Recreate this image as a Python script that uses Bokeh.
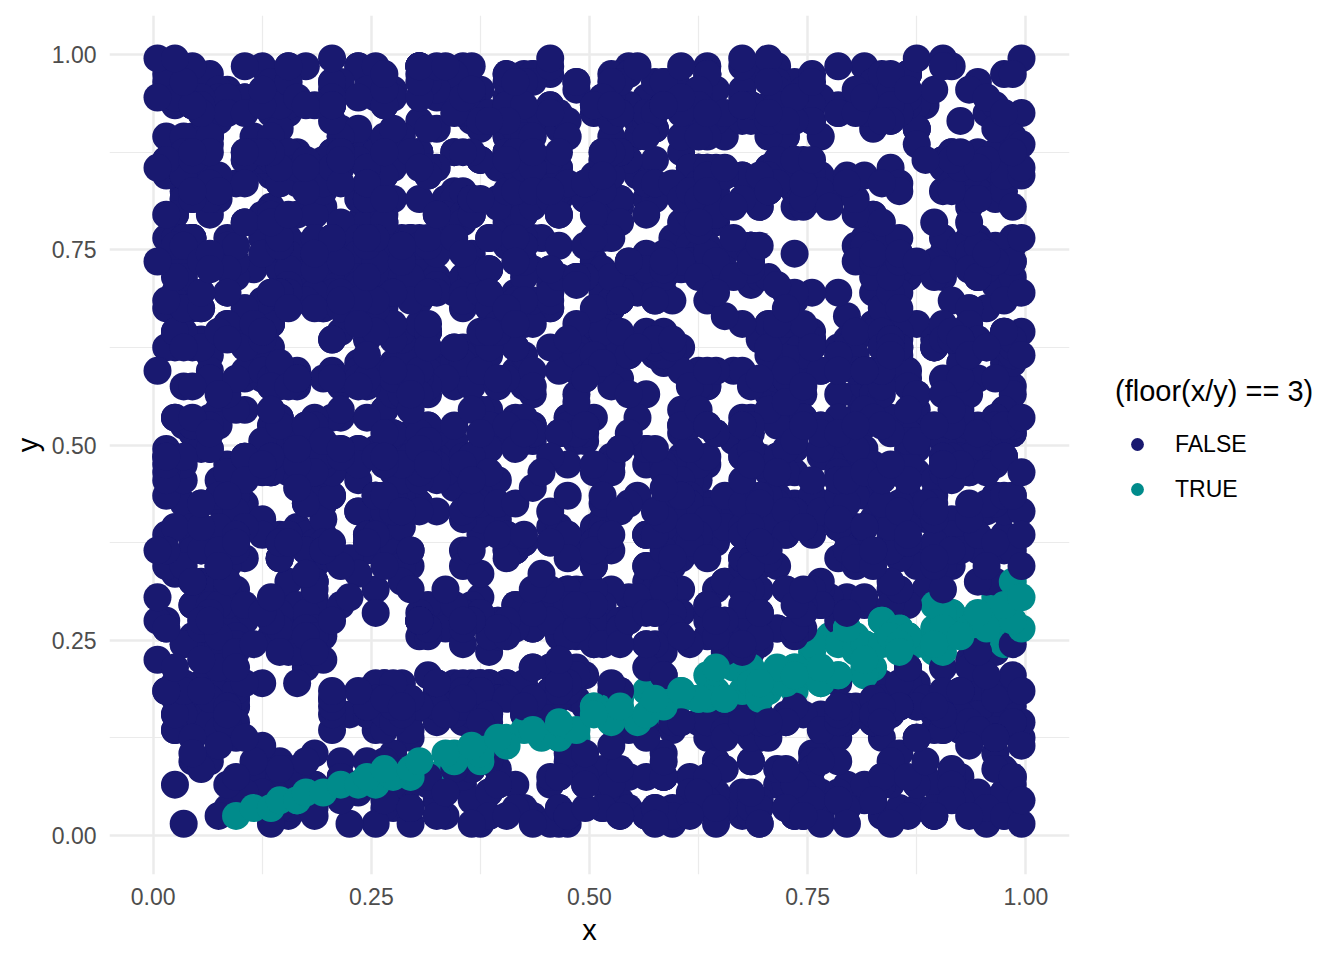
from bokeh.plotting import figure
from bokeh.models import Range1d, FixedTicker, Legend, LegendItem, ColumnDataSource
from bokeh.embed import file_html
from bokeh.resources import INLINE

# ---- data -------------------------------------------------------------
# Each group "xxyy": x and y of one point, in hundredths (cell 00..99 of the unit square).
POINT_CODES = """
4817 0925 7362 1598 8431 2706 5589 3174 9052 6643 1387 7720 2951 6408 3869 8215 0574 4936 7193 2680
9134 5271 0688 3945 6702 8159 2416 7893 1260 4537 8824 3091 5768 0342 7915 2483 6650 9207 1879 4326
3562 8807 1429 6391 0754 4218 9683 2540 5127 7966 3308 8452 0197 6735 2874 9541 4063 1810 7289 5656
6295 1743 8016 4582 2369 7930 0451 5807 3674 9128 6513 1285 8840 4019 2596 7342 0938 5761 3127 9404
1078 6659 4321 9816 5543 0397 7264 2912 8485 3730 0661 5498 9213 2876 6154 1639 4782 8025 5307 0941
8441 3016 6897 0253 2678 5584 1139 9760 4906 0315 7842 2667 3509 8198 1721 5053 9376 3444 6830 2187
2709 9482 5163 7730 9912 1845 3658 6431 0279 8561 4094 6926 1752 5380 8637 0409 2215 7198 4583 6062
5926 2378 0532 3469 4187 6621 8075 1546 7393 2814 9458 0731 6380 4925 0262 3876 5107 6934 2751 8319
0653 7134 9260 5817 3426 9071 2588 4302 6915 1148 5279 8563 4036 7712 9487 2654 8831 0476 9322 3795
7380 4569 2795 1042 6851 3318 9624 7183 0542 5976 2107 4415 7869 0233 5194 6728 1365 8517 0689 4251
4192 8637 3854 6275 0916 7742 1403 5569 8221 3087 6834 9150 2597 5461 1728 8306 3073 2889 6514 9736
9567 1325 6048 8893 7539 2164 4712 0895 3376 6503 1980 2347 8625 4178 6031 9482 2756 5140 4397 0818
2835 5902 8671 0418 4287 5936 6148 3327 9764 0752 4516 7289 0943 3617 8465 1054 7839 6325 1172 5591
6014 3786 1523 7349 9670 0425 3891 8056 2418 4965 7302 5634 6178 9806 2341 7569 0496 4182 8753 3207
1749 0268 7906 2581 5304 8697 0965 6738 4850 1219 3647 9072 1486 2359 7510 3823 5681 9964 2035 6478
8302 6451 4297 9164 1852 3076 5430 2619 7185 8736 0294 3819 5062 7947 4629 0388 9215 1453 6870 2594
3487 9715 0369 4826 7143 6589 2071 9304 1657 5442 8929 1368 4713 0584 9262 5937 1746 7099 3508 8121
5670 2043 9128 6705 3619 1472 7856 4981 6039 0847 5386 6713 9254 3170 0893 8461 6532 2287 7914 4065
0924 7396 2654 3517 8790 9238 4215 1679 3802 7163 1548 4097 2836 8425 5106 3749 4089 5632 9473 1850
7256 1189 5832 0943 2478 4701 9337 6052 5486 2915 9074 7631 0368 6291 3849 6915 2760 8438 1027 3786
2013 8574 6491 5236 9367 0865 1742 3308 8159 6427 4685 2106 7523 1942 6078 4250 9851 0317 5664 7593
9471 3628 1087 8712 5046 7319 6584 9250 0637 3981 2234 8749 5160 4583 8716 1094 3302 6875 2418 0149
4856 0937 7725 3461 1298 2574 4019 5763 6842 1306 8951 0418 3679 9027 1485 7632 5169 2548 8790 3326
6138 5492 3360 1875 7683 9146 2807 0324 4591 8765 3027 6283 9914 5361 2750 0839 6473 4106 1532 9857
1592 7264 8943 6028 0519 4387 5638 8176 2105 5649 7386 1942 4837 2190 9623 3478 0718 7254 5081 6963
8365 2710 0516 9384 6837 1623 9150 2497 7963 0218 1572 5807 6051 8746 3204 5961 8425 1093 6740 2189
3740 6185 5279 2513 4962 8051 0493 6725 1384 7827 6409 3156 2398 0614 7581 9347 1266 5832 9317 4602
5207 9843 2638 7159 8124 3496 6971 1048 9526 4352 0813 9674 5127 7382 4036 2189 7543 3968 0276 8415
0689 4326 9184 0742 3571 6918 4265 7839 5247 2063 9738 4521 1604 8259 5397 6714 2950 9187 4831 1576
7914 1058 4752 5896 2305 5267 8312 3594 0876 9140 2465 7089 8736 3925 0148 4572 6087 2341 7659 5203
4350 8697 1806 3271 9648 0782 2549 6107 3918 5694 7071 2436 4185 6803 9527 1365 3840 8719 2096 6472
9826 3419 6375 8640 1187 4539 7093 9856 6402 1278 4920 8357 0631 2174 5869 7903 1594 4285 6347 0931
2571 7036 0941 4518 6725 9304 3867 2415 8136 7509 1352 6784 9248 4597 3016 8651 5729 0463 8174 3805
6043 2185 8619 1967 0452 6873 5128 4690 2781 3346 6804 0219 7563 9831 1258 2497 4916 7302 3659 9548
1798 6542 4286 7305 5830 2147 9674 0382 4567 8913 3249 5860 1472 6305 8734 0186 7351 3628 5092 2764
8463 0971 7352 2684 3917 8625 0439 7148 9205 1672 8516 2743 6397 0562 2481 5938 0263 9875 1426 4317
3129 5368 2497 9153 7684 1450 6802 3571 1948 6035 4187 9326 2850 7619 6073 4219 8645 1507 7938 6081
5786 4203 6158 0826 2049 5381 1967 8624 7319 2487 0963 3598 8124 4736 3527 9604 2178 6342 4853 1629
0432 9817 3629 5470 8265 7936 4518 1093 5874 9651 6328 1240 3917 5182 9860 2375 4601 8793 0217 7456
7615 1594 9046 3738 4592 0167 8373 5486 0623 4129 2751 6814 7563 3098 1346 6928 9135 2467 5781 3940
2390 6728 5163 8204 1938 3457 0682 9715 4176 8039 5842 0371 2695 8426 6914 1783 3058 4627 9501 0869
9058 3146 1874 4965 6320 9783 5241 2069 8537 1604 3495 7928 0162 4381 7259 5016 6794 3152 1438 8275
4681 7402 7539 0317 2873 1248 9615 6382 0954 7862 1703 4159 8426 9630 2587 7341 0429 8963 6175 3514
6217 0935 3482 6791 9045 5602 2376 8157 6819 3025 8564 1392 4738 0275 5103 3698 7812 1547 3906 9681
1354 8269 8906 2153 5761 4079 6823 0438 3295 6574 0917 8546 1209 6853 9472 0127 5381 6274 8649 2035
8790 2517 0628 9476 3184 7365 1059 4621 9742 0398 6236 2685 5871 3164 0738 8452 2976 5039 4261 7508
3926 5683 6245 1830 7597 2814 4376 9050 2168 5731 4089 9517 3642 7508 8651 2093 9547 0381 1726 4592
5403 1958 2817 7362 0429 8596 9138 3743 7694 2106 1852 4063 6915 8279 4326 9764 1205 7648 5837 0916
0875 7341 9372 3608 8256 0143 5790 6214 4027 8459 7318 5796 2483 1947 6089 3518 6472 2093 9154 5267
7142 4096 4751 8924 3671 6938 0415 1587 5863 3270 2946 0831 9754 5602 1437 6891 3028 8546 2360 1783
2568 9623 1094 5287 6813 3459 8672 7019 0345 6982 5703 8264 4129 9836 7582 0275 8391 4617 6928 3450
9017 3852 6480 0745 2349 7106 3248 5893 8621 1437 9086 3519 7264 0481 2955 4603 1784 9352 0573 6809
4736 0184 3927 6513 9082 1675 6831 2460 5914 7056 2438 6795 0317 8642 5164 9782 4136 7805 3294 1827
6389 5461 8152 2398 4567 8923 0176 9348 2703 4821 6942 1067 5893 3259 8706 1435 7269 0583 9618 4052
1503 2976 5368 9047 1824 4250 7593 0712 6185 9364 3701 7428 2076 6914 0352 8517 2094 6341 5837 7196
8254 7839 2715 4162 6398 0583 9426 5187 3042 0679 8153 4286 9642 1375 6829 2048 5317 1769 4280 3567
3691 1503 7046 1879 8215 6742 2158 8693 9876 5231 0467 9015 3381 7206 4593 5762 0846 8425 7152 2934
5129 6247 0483 7326 3754 2961 4809 1435 7260 3815 5294 2637 8650 4931 1078 7394 6523 3906 0489 8671
0462 8915 9831 3694 5073 9418 6527 4076 1453 8742 7926 0381 6145 2587 9316 0829 3751 5268 2643 4708
7835 3064 4279 8541 2906 1357 8143 6924 5738 2196 3615 8047 0279 9653 2847 4136 8902 1574 6385 0219
2947 6382 1650 5073 7481 8629 3075 9518 0264 6437 9852 3169 4726 1380 8503 6947 1238 7495 3016 5862
9380 0716 6124 2957 0563 3148 5972 2407 8139 4685 1276 5834 7091 4265 3719 8052 6483 0917 8542 2374
4506 5829 3792 9418 6247 7503 1869 4752 3580 1926 6348 0715 2453 8917 7065 2381 9724 4639 1287 6093
6173 2458 8535 0682 3819 4276 7214 8063 6927 7304 2189 9462 5807 3541 0638 9274 4150 2863 7925 3618
1825 9173 0269 6357 9136 1982 4530 1687 9415 3068 5731 2598 8642 0793 6281 3506 7849 5172 0364 8945
8658 4391 5947 3120 1572 6834 9086 3259 2741 8593 4607 7126 0384 6259 1946 5783 2017 8436 4593 1207
3214 7605 2481 7846 4928 0451 2647 6901 7368 0215 8942 3580 6173 2948 5407 8136 3592 1768 9021 7459
5790 1827 7018 1593 8307 5769 6395 0418 4183 5647 3269 1834 9751 7602 2834 0697 5268 6904 2157 4382
0347 6042 4356 8271 2695 9213 3851 7346 0592 2874 7108 6397 4826 5139 9762 4315 0973 3487 6842 9610
7481 3569 9702 4038 6043 2587 8129 5674 8256 9731 1453 4862 2095 8317 3581 7926 6149 0235 5378 2864
2059 8214 6183 0925 3716 7349 0498 2135 5371 6408 6927 0315 8643 1570 7256 1483 4692 9814 3086 5137
9643 5387 1527 6784 9851 1062 4753 8592 2806 3149 0584 7629 3218 9436 4097 5362 8510 2679 7453 0198
4168 0736 8294 3159 5427 8906 6312 4087 9643 7215 4896 2053 7581 0924 1738 6059 3247 5861 0629 8374
6532 4971 3065 9218 0384 4651 9827 1346 6152 0983 2763 8409 1594 6753 5928 2814 7065 3497 8136 4725
1806 7158 5649 2407 7192 3274 1569 6823 3087 8526 9314 5762 6037 2481 8463 9107 0582 6734 4257 1593
8375 2693 0918 7564 2639 6017 5084 3719 7415 1362 5027 9184 4859 7306 2091 4638 9716 1250 6893 3481
3927 9405 7486 1832 8546 0938 2675 9452 0268 4791 1683 3527 9076 4215 6384 0729 5138 8473 2015 7962
5214 1847 2371 6095 4078 5823 8391 0126 6539 9034 7852 6418 2345 8697 9152 3861 1427 4086 7538 0319
0791 6328 9653 4176 1925 2416 4738 5607 1874 3657 3048 0295 7916 3042 4735 8296 6803 7529 5164 9275
7148 3592 4827 8340 6357 8754 0912 2843 9326 5108 8296 4731 1502 5968 0617 2154 3379 9615 1867 4820
2386 8061 6104 5729 3812 1039 7265 6381 4753 2916 1547 8673 5289 0134 8926 7480 9046 3251 6948 2517
9652 4179 1538 0264 7093 6482 3917 9025 8214 6873 6409 2158 0374 6821 3579 1346 5218 7809 4136 8053
4507 0735 8962 3817 2648 9527 5183 4476 0659 1328 3872 5916 7641 2359 9048 6513 0784 2436 8291 3679
6179 5248 3416 7593 9185 4276 0649 1837 5302 8641 0793 9427 2168 7506 4612 3087 7591 6045 1743 5928
1843 9376 7085 2148 5327 0658 8491 6205 2917 4087 5214 3681 8952 4137 6285 9742 2416 8973 7520 0146
8290 2615 0743 6825 1469 7914 2036 3592 9748 0536 9687 7203 4415 9873 1029 5368 8637 0582 3164 6495
3561 7824 5297 9036 6834 3152 9708 7164 1385 6912 2476 0549 6793 1648 7853 0213 4952 5318 9705 2371
5024 3980 2671 1452 8703 5679 1263 0518 7246 3985 8130 4862 3057 8294 5216 4789 1305 9647 0628 7843
0975 6153 9438 4761 4279 1846 6485 8937 3604 1527 4859 9315 7524 3460 0938 6172 9784 3126 5493 1286
7316 1409 4825 8397 0562 8023 3957 2463 6819 7054 1365 2678 0189 6735 8647 2901 3560 7819 2046 9532
2743 9586 1094 3628 7915 4380 5142 6809 0437 2871 6592 8147 9826 1503 3295 7684 6018 4275 8362 0914
9108 4237 6759 7082 3146 9675 0821 3358 5962 8406 3740 1829 4365 7148 6812 0537 2794 8619 1527 5683
4659 0781 3216 1947 8524 2109 7463 9612 2785 4153 9085 6372 1048 5926 0473 9861 5326 1048 6793 3125
6285 5314 8572 6415 2087 6543 1396 4075 8139 0682 2617 3908 7531 2684 4950 1726 8043 6375 3809 7461
1437 8962 0138 3759 5691 0872 9024 5738 4501 6327 5469 9253 0276 8415 7139 3048 1587 9204 7261 2839
8902 2648 5493 9106 4372 7258 2657 1983 6314 9741 1832 4586 6893 3051 2718 5614 9260 3582 0145 6397
3578 6105 7861 2543 9028 3196 4812 8367 1940 3279 8306 0715 3462 9187 5864 8293 4731 7126 5903 1742
5024 3791 2349 8817 1645 5934 8175 0452 7283 5618 4951 7364 2087 4603 9325 0476 6829 1435 8367 4058
0681 7426 9705 4368 6893 1427 3568 6294 0816 2495 7138 2609 5941 1736 4082 6517 2394 8659 1728 9374
7249 1853 4162 0795 3516 8049 6931 2746 5358 7903 0624 5871 1259 8342 6903 4185 7042 2913 6584 3217
2816 5037 8429 6152 0734 2689 1475 9503 3692 8147 5206 3814 7483 0569 2187 9632 5841 0376 4925 6508
9463 8124 0937 2846 6285 5731 8240 1358 7014 4625 9871 6139 3027 5294 8651 1407 2368 7584 0213 3769
4190 2568 6374 9031 1852 8306 3917 7629 2485 0794 1348 9562 6735 8120 0476 5893 9642 3157 7061 8425
6527 7903 2158 4679 8436 0147 5692 3081 9326 6513 4709 2875 0481 3716 7258 2049 1386 9832 5497 1604
1973 3681 7405 1387 4169 9528 2043 6875 0567 3452 8236 7014 5692 9148 3825 6371 4907 1268 8639 7350
8345 9216 3892 5724 2607 4385 9168 0432 6739 1986 2651 4397 8146 2573 9514 0782 6238 5413 2076 4981
3058 4729 5613 8205 7384 1659 6524 9817 3290 7364 9472 1658 3805 7429 1067 4396 8531 6072 4718 2543
5792 0367 1246 3951 9415 6872 0389 4126 8453 5029 6183 8925 2370 4861 5734 8217 3097 2845 9362 0186
0614 6852 8971 0436 3528 2094 7751 5368 1086 4271 3540 5763 9218 0637 8492 2659 5124 7689 1803 6937
7386 1490 4527 7682 5031 8716 3245 2903 5847 9608 0894 3216 6742 5186 2359 7043 9768 0324 6451 3872
2135 8706 9362 2817 6943 3528 8064 7591 4702 1483 7325 6980 1457 9263 4871 0526 3190 8657 5284 9013
9807 3241 0658 5194 1279 7840 4612 1035 9356 6827 2169 4537 8903 3748 6025 5182 7453 1936 0617 4568
4352 7984 6143 9072 8516 0293 5387 6748 2619 3045 5896 1274 4328 6901 9714 3867 2096 6479 8135 2790
6928 2519 3786 4351 0834 5672 9023 3164 7481 8516 3742 8059 6185 2437 1508 9321 4675 5820 3046 7183
1469 5037 7294 0683 4175 8439 2756 9807 0367 5291 9613 2485 0724 8569 6283 4710 8159 2347 7892 5624
8073 0865 2819 6524 9367 1946 6401 4253 5138 2769 4087 7326 5901 3175 2847 8562 0334 9618 4273 1459
3681 9423 5530 3176 2049 6281 1872 8694 9725 4038 1264 5913 3679 7402 8136 2085 6941 4752 1608 8327
5247 4168 8962 7845 6723 3507 8356 0215 2483 7195 6831 0348 9542 1826 5061 7394 1287 3059 9814 2605
0936 7652 1475 2094 3518 9862 4093 6731 6257 0813 8495 3672 2186 6745 3790 1538 7652 8104 5326 9471
7504 1389 4027 8531 8192 5034 7649 2576 1849 9346 0273 8154 6715 4093 9258 6427 3106 5763 2987 0832
2817 6054 6381 4296 5936 0721 3285 9048 8364 2517 7609 1832 4958 0376 6142 8903 5271 1486 7039 5768
9163 3728 0594 9612 1485 7369 5914 1587 4025 6793 3148 6295 0837 5621 2706 4359 8842 6237 1594 3016
4592 8416 7238 1045 8327 2856 0476 6139 3791 0452 9863 4570 7214 3098 8469 1725 2603 9381 5846 6729
6305 2971 3862 5783 4619 9104 8637 3852 5186 8324 2457 7019 9346 1782 4531 6098 7164 0452 8273 4910
1748 5396 9017 7321 0253 4687 2149 7306 9527 1685 5034 2968 3681 6405 7193 3872 0526 4719 3608 9253
8621 0843 2475 3408 7096 6512 5983 0764 1348 4971 6289 8357 0527 9236 5810 2647 9438 1165 6942 7085
3094 7265 5638 6157 2841 1379 4702 8526 6052 7613 1876 0493 8712 4569 0387 9451 3219 7804 2576 1437
5473 4187 8106 0869 9365 8043 1658 2917 7839 2046 4521 6748 2093 7814 3965 5176 6081 3492 9718 8362
0856 9612 1749 4293 5728 3926 7084 4351 2613 5387 8940 3126 6459 1078 8542 0734 4895 6217 3041 5689
7219 3548 4983 8576 1604 7258 3917 6142 9475 0738 2615 9873 4136 5392 1786 6329 0652 8941 7563 2016
2687 6039 6254 2105 8471 0892 9546 3718 4289 8562 6307 1485 7950 2641 5029 3876 9413 2758 1394 6875
9340 1785 0371 7942 3056 5624 2873 9065 5832 3107 1749 5296 0384 8756 9463 7012 2167 6384 5820 3541
4725 8463 8519 3687 6293 1476 5308 1947 0168 7439 9852 2063 3627 4518 2714 8359 6980 0275 8149 7326
6182 2907 3648 9215 0739 7861 8425 5634 7391 1086 4213 6738 9145 7082 6857 1493 3524 9617 2765 0493
1596 7321 7903 5461 4682 2358 0196 8279 2543 6914 5067 8342 1893 3429 0536 4671 8247 5103 9432 6781
8049 3654 2187 0736 9314 6925 4783 2501 8625 4357 7394 0186 6572 9163 4871 7208 1596 3849 6073 2548
3415 9186 5036 8592 2567 0649 7231 6043 3718 9820 1658 4975 2409 5837 9183 2564 7035 1428 4896 8307
5872 0453 9764 2173 7845 4182 1598 9726 6092 2483 8541 3627 7936 0271 3648 9015 4389 6752 0179 3964
0239 6718 1425 6834 3098 8567 6340 3185 4871 7659 2936 6014 5287 8463 1705 5392 9824 2076 7651 1823
7601 4237 8359 1948 6421 3096 2875 7452 9136 0318 6473 9285 0713 4619 7892 6834 3150 8497 2436 5079
2954 8573 4618 7302 1387 5749 9063 4826 0539 5276 3184 2741 8650 1937 4268 0593 6427 5318 8092 7146
9378 1092 0863 3594 8756 1623 4137 0689 7241 8934 5807 6359 2416 7385 9520 3764 1083 9627 4851 2693
4103 6849 7291 9056 5638 8274 0592 3476 2815 1460 9263 4017 6875 0542 2936 8159 7804 3162 6527 9381
6765 2318 3547 4187 0294 4903 7859 9152 5364 6798 1426 8583 3049 6271 7184 1423 2695 7840 0375 4612
1287 7465 5902 2769 9413 0357 2148 5963 8607 3219 7945 1736 8462 2958 4607 6385 9372 0518 5246 8034
8432 3906 1726 8451 6849 7186 5324 1607 4983 9572 2568 4091 0734 8516 1369 9047 5612 6839 3781 0958
3869 9154 8035 1293 2107 3642 9471 6238 1752 0486 6317 7259 4598 3027 8645 2716 0493 4285 9163 5427
5016 0782 2458 6937 7562 9018 3695 8724 6329 5143 8079 3864 1205 9743 5831 4562 7926 1357 2604 6819
0573 5628 6914 3574 4385 2531 8602 3169 9247 7815 0432 9637 7851 1469 3298 7084 8159 5703 6928 3165
7928 4317 3279 0816 1936 6874 1247 5893 3516 2368 5941 0482 2697 6304 9013 5839 4275 8146 1537 9702
2461 8095 7183 5728 8204 1369 5836 0457 7092 4651 1378 6205 9423 5187 0674 3526 6918 2471 8345 4086
9015 2643 0567 9342 3751 7428 2093 6714 4865 8139 6724 3891 0569 2438 7816 1950 3027 9658 5184 7231
4382 6917 8625 2183 6479 3085 9164 2538 1327 6094 4052 7386 8214 9673 5349 8621 7483 0136 2719 1557
6847 1354 3098 7619 0136 9752 4581 7203 8654 3587 9263 2017 5738 1846 2903 4176 1295 6584 7062 8493
1709 7586 5341 4067 5893 2617 7329 3846 5193 0725 2816 5943 1087 6352 8461 7238 9574 3802 4619 2168
8253 3027 9612 0938 2648 8194 0756 9182 2476 9361 7439 1658 6392 0814 3527 5093 2841 7165 0937 6425
3536 9481 1874 6352 7014 4829 6403 1567 9728 2149 0687 8524 4173 7596 9285 1647 5368 0923 8352 3709
5194 0672 6427 3815 4387 5076 3958 8234 0651 5873 3942 4196 7820 2365 1694 6805 8139 4572 6281 9534
0627 5238 2759 8491 9562 1403 8215 4679 6384 7036 8574 0362 3645 9218 7431 2956 0487 8316 1793 4870
7982 4165 4906 1264 1825 6937 2681 5093 3147 4582 5219 9748 0396 5473 2058 8314 6752 1649 9026 2357
0301 0803 1301 1802 2201 3202 3601 4002 4301 5302 5701 6102 7402 7901 8401 8902 9302 9901
0206 0609 1005 0412 0815 1211 1408 0118 0522 2104 2506 2903 3305
0027 0036 0148 0059 0073 0085 0094 0099
9904 9911 9918 9926 9934 9941 9953 9961 9969 9976 9984 9992 9999
0299 1098 2099 3398 4599 5598 6799 7898 8799
9099 9496 9797 8995 9291 9592 9889 8788 9186 9485 8391 8695 9693
8184 8582 8886 8383 6277 6676 6479 6368 6671 6566 6469
4855 5257 5553 5059 5451 4952 4142 4541 4344 4747 4149 4548 4446 4251 4743
2129 2528 2832 2235 2634 2437 2027 2931 2333 1228 1330
5738 6137 6335 5935 5840 8773 8978 3331 3534 4321 4622
7545 8052 9047 6958 3462 1579 2186 5293 7121 8809 1644 3315
0508 0806 1109 0711 0410 0907 1012 1619 1922 1725 2018 1823
1831 2134 1936 2230 1733 2037 3733 4035 4331 3938 4238 3636 4433
5160 5456 4958 5349 5562 4763 5047 6382 6680 6984 6585 6278 7082
6873 7170 7374 6975 7267 9198 9395 9690 9897 9287 9594 9988 9098 9792
7780 8081 8378 7983 5741 6043 5844 6139 8236 8638 8935 7255 7457
9938 9843 9946 9880 9985 9887 8447 8750 8952 0118 0022 0126 0030 0221
8712 9015 9311 8916 1019 1124 0921 5211 5514 5809 3410 3714 4012 4216 3517
0702 0902 1103 1303 1404 1604 1705 1905 2106 2306 2407 2707 2608 2908 3009 3409
3310 3710 3611 4011 3912 4412 4313 4813 4614 5214 5015 5615 5316 5816 6217 5717
6517 6018 6919 7320 7820 7621 8122 8523 8924 9225 9526 9827 9428 9729 9930
"""

TICKS = [0.0, 0.25, 0.5, 0.75, 1.0]
TICK_LABELS = ["0.00", "0.25", "0.50", "0.75", "1.00"]
MINOR_TICKS = [0.125, 0.375, 0.625, 0.875]
LEGEND_TITLE = "(floor(x/y) == 3)"
CLASS_LABELS = ["FALSE", "TRUE"]
CLASS_COLORS = ["#191970", "#008B8B"]
X_TITLE = "x"
Y_TITLE = "y"

groups = POINT_CODES.split()
xs = [(int(g[:2]) + 0.5) / 100 for g in groups]
ys = [(int(g[2:]) + 0.5) / 100 for g in groups]
is_true = [int(x // y) == 3 for x, y in zip(xs, ys)]
colors = [CLASS_COLORS[1] if t else CLASS_COLORS[0] for t in is_true]
labels = [CLASS_LABELS[1] if t else CLASS_LABELS[0] for t in is_true]

src = ColumnDataSource(dict(x=xs, y=ys, color=colors, label=labels))

FONT = "Liberation Sans"

p = figure(
    frame_width=960, frame_height=859,
    x_range=Range1d(-0.05, 1.05), y_range=Range1d(-0.05, 1.05),
    output_backend="svg", toolbar_location=None,
    min_border_left=109, min_border_top=15, min_border_bottom=10, min_border_right=255,
)
p.outline_line_color = None
p.background_fill_color = "white"
p.border_fill_color = "white"

r = p.scatter("x", "y", source=src, size=28, fill_color="color", line_color=None)

ticker = FixedTicker(ticks=TICKS, minor_ticks=MINOR_TICKS)
overrides = {t: l for t, l in zip(TICKS, TICK_LABELS)}
for ax in (p.xaxis[0], p.yaxis[0]):
    ax.ticker = ticker
    ax.major_label_overrides = overrides
    ax.axis_line_color = None
    ax.major_tick_line_color = None
    ax.minor_tick_line_color = None
    ax.major_tick_in = 0
    ax.major_tick_out = 0
    ax.minor_tick_in = 0
    ax.minor_tick_out = 0
    ax.major_label_text_font = FONT
    ax.major_label_text_font_size = "23px"
    ax.major_label_text_color = "#4D4D4D"
    ax.axis_label_text_font = FONT
    ax.axis_label_text_font_size = "29px"
    ax.axis_label_text_font_style = "normal"
    ax.axis_label_text_color = "black"

p.xaxis.axis_label = X_TITLE
p.yaxis.axis_label = Y_TITLE
p.xaxis.major_label_standoff = 13
p.xaxis.axis_label_standoff = 6
p.yaxis.major_label_standoff = 13
p.yaxis.axis_label_standoff = 5

for g in (p.xgrid[0], p.ygrid[0]):
    g.ticker = ticker
    g.grid_line_color = "#EBEBEB"
    g.grid_line_width = 2.5
    g.minor_grid_line_color = "#EBEBEB"
    g.minor_grid_line_width = 1.2

first_false = is_true.index(False)
first_true = is_true.index(True)
legend = Legend(
    items=[
        LegendItem(label=CLASS_LABELS[0], renderers=[r], index=first_false),
        LegendItem(label=CLASS_LABELS[1], renderers=[r], index=first_true),
    ],
    title=LEGEND_TITLE,
    location=(46, 369),
)
legend.title_text_font = FONT
legend.title_text_font_size = "29px"
legend.title_text_font_style = "normal"
legend.title_text_color = "black"
legend.title_standoff = 20
legend.label_text_font = FONT
legend.label_text_font_size = "23px"
legend.label_text_color = "black"
legend.glyph_width = 44
legend.glyph_height = 32
legend.label_height = 32
legend.label_standoff = 16
legend.spacing = 13
legend.padding = 0
legend.margin = 0
legend.border_line_color = None
legend.background_fill_alpha = 0
p.add_layout(legend, "right")

open("out.html", "w").write(file_html(p, INLINE))
